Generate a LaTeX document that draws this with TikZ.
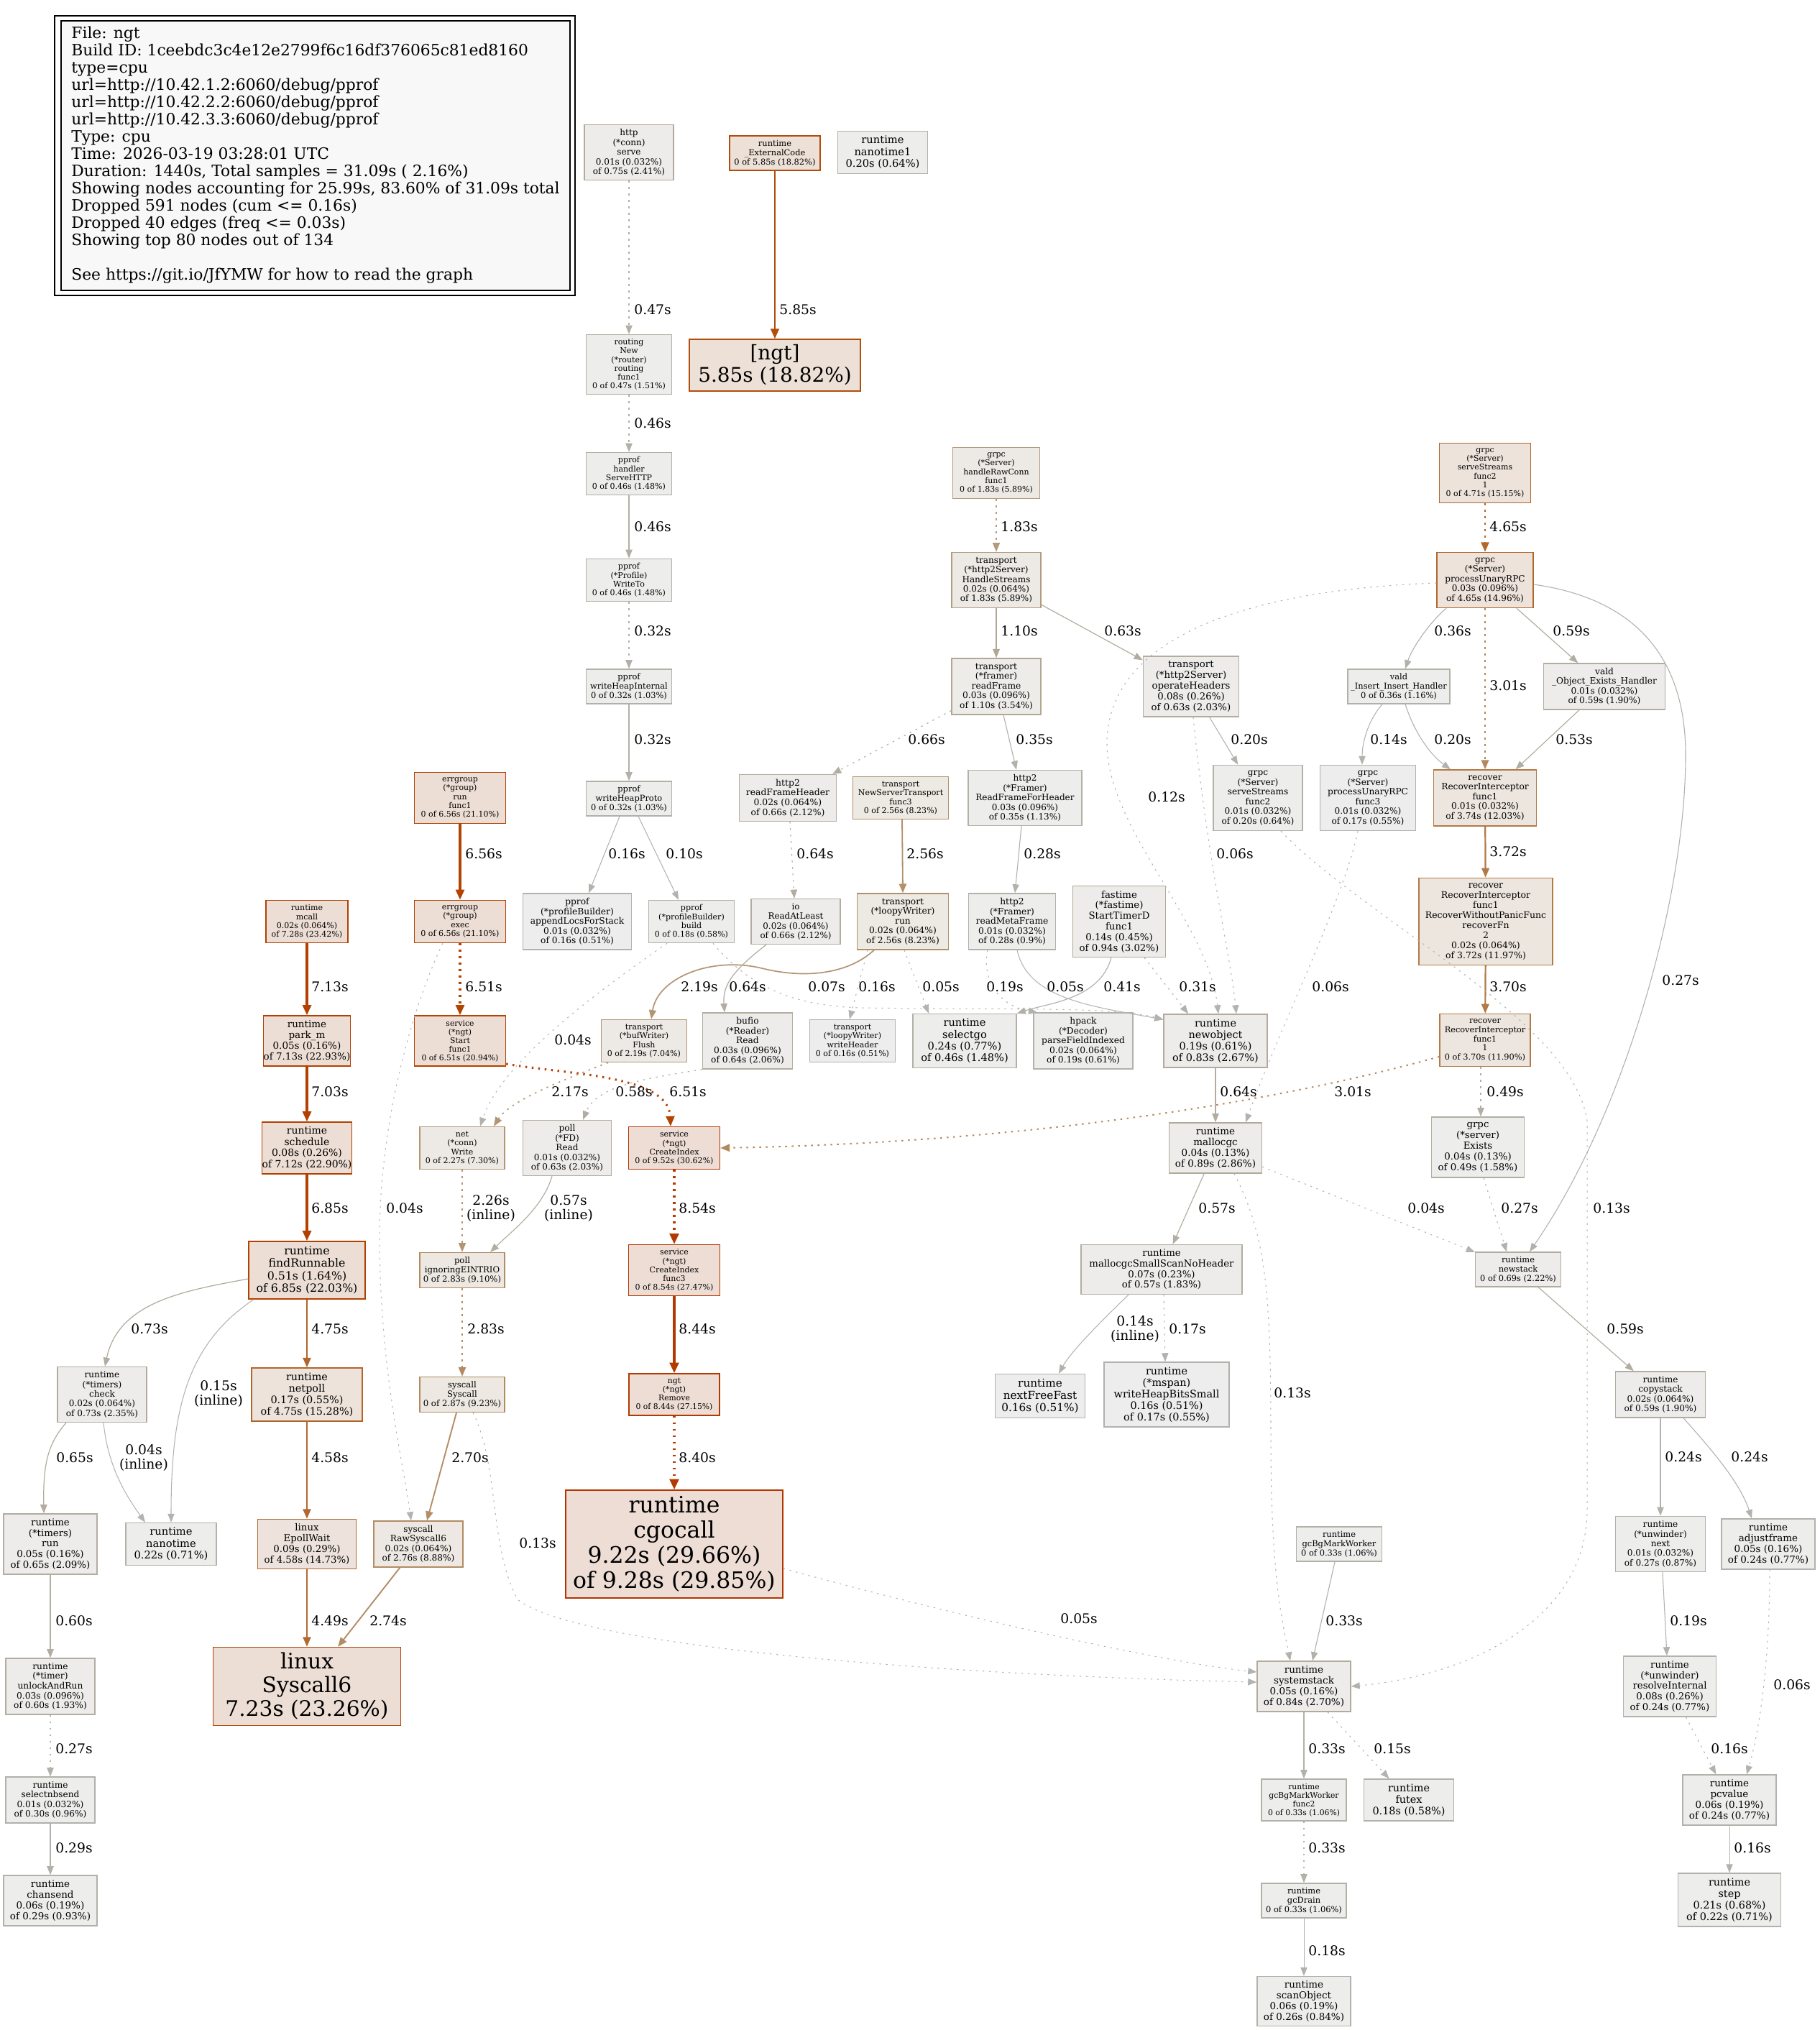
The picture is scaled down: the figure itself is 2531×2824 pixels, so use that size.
\documentclass[tikz,border=0pt]{standalone}
\usepackage{fontspec}
\setmainfont{DejaVu Serif}
\usetikzlibrary{arrows.meta}
\newcommand\pgcolor[3]{%
  \pgfmathsetmacro\pcS{min(1,#2/31.09)}%
  \ifnum#3=1 \def\pcSat{0.1}\def\pcVal{0.93}\else\def\pcSat{1.0}\def\pcVal{0.7}\fi
  \pgfmathsetmacro\pcSat{ifthenelse(\pcS<0.2,\pcSat*\pcS/0.2,\pcSat)}%
  \pgfmathsetmacro\pcSh{\pcS^0.3}%
  \pgfmathsetmacro\pcG{\pcVal*(1-\pcSat*\pcSh)}%
  \pgfmathsetmacro\pcB{\pcVal*(1-\pcSat)}%
  \definecolor{#1}{rgb}{\pcVal,\pcG,\pcB}%
}
\newcommand\fsz[1]{\pgfmathsetlengthmacro\fszA{0.45*#1}\pgfmathsetlengthmacro\fszB{0.5*#1}\fontsize{\fszA}{\fszB}\selectfont}
\newcommand\pgnode[8]{%
  \pgcolor{f-#1}{#7}{1}\pgcolor{d-#1}{#7}{0}%
  \node[pbox, fill=f-#1, draw=d-#1, minimum width=#4*0.5pt, minimum height=#5*0.5pt, font={\fsz{#6}}] (#1) at (#2,#3) {#8};%
}
\newcommand\pgedge[3][]{%
  \pgcolor{ecol}{#2}{0}%
  \pgfmathsetmacro\ewd{0.5+5*min(1,#2/31.09)}%
  \draw[pconn, line width=\ewd pt, draw=ecol, #1] #3;%
}
\definecolor{legfill}{HTML}{F8F8F8}
\tikzset{
 pbox/.style={rectangle, inner sep=0pt, line width=0.7pt, align=center, text=black},
 pconn/.style={-{Triangle[length=5.5pt 1, width=4pt 1.2]}},
 pdot/.style={dash pattern=on 1.2pt off 3.3pt},
 elab/.style={anchor=west, inner sep=0pt, font=\fontsize{9.35pt}{10.2pt}\selectfont},
 elabc/.style={anchor=center, align=center, inner sep=0pt, font=\fontsize{9.35pt}{10.2pt}\selectfont},
 legtext/.style={anchor=north west, align=left, inner sep=0pt, font=\fontsize{10.9pt}{12pt}\selectfont},
}
\begin{document}
\begin{tikzpicture}[x=0.5pt,y=-0.5pt]
\useasboundingbox (0,0) rectangle (2531,2824);
\fill[white] (0,0) rectangle (2531,2824);
% legend
\draw[black, line width=0.7pt] (76,22) rectangle (800,411);
\draw[black, fill=legfill, line width=0.7pt] (85,29) rectangle (793,404);
\node[legtext] (legend) at (99,37) {File: ngt\\
Build ID: 1ceebdc3c4e12e2799f6c16df376065c81ed8160\\
type=cpu\\
url=http://10.42.1.2:6060/debug/pprof\\
url=http://10.42.2.2:6060/debug/pprof\\
url=http://10.42.3.3:6060/debug/pprof\\
Type: cpu\\
Time: 2026-03-19 03:28:01 UTC\\
Duration: 1440s, Total samples = 31.09s ( 2.16\%)\\
Showing nodes accounting for 25.99s, 83.60\% of 31.09s total\\
Dropped 591 nodes (cum <= 0.16s)\\
Dropped 40 edges (freq <= 0.03s)\\
Showing top 80 nodes out of 134\\[12pt]
See https://git.io/JfYMW for how to read the graph};
% nodes
\pgnode{http}{875}{212}{124}{77}{13.4}{0.75}{http\\(*conn)\\serve\\0.01s (0.032\%)\\of 0.75s (2.41\%)}
\pgnode{extcode}{1078}{213}{126}{48}{12.7}{5.85}{runtime\\\_ExternalCode\\0 of 5.85s (18.82\%)}
\pgnode{nanotimeA}{1228}{212}{125}{59}{16.3}{0.20}{runtime\\nanotime1\\0.20s (0.64\%)}
\pgnode{ngt}{1078}{508}{238}{72}{31}{5.85}{[ngt]\\5.85s (18.82\%)}
\pgnode{routing}{875}{507}{119}{83}{12.2}{0.47}{routing\\New\\(*router)\\routing\\func1\\0 of 0.47s (1.51\%)}
\pgnode{handler}{875}{659}{119}{59}{12.25}{0.46}{pprof\\handler\\ServeHTTP\\0 of 0.46s (1.48\%)}
\pgnode{writeto}{875}{807}{119}{59}{12.25}{0.46}{pprof\\(*Profile)\\WriteTo\\0 of 0.46s (1.48\%)}
\pgnode{whi}{875}{955}{119}{48}{12.7}{0.32}{pprof\\writeHeapInternal\\0 of 0.32s (1.03\%)}
\pgnode{whp}{875}{1111}{119}{48}{12.7}{0.32}{pprof\\writeHeapProto\\0 of 0.32s (1.03\%)}
\pgnode{appendlocs}{803}{1282}{151}{78}{13.6}{0.16}{pprof\\(*profileBuilder)\\appendLocsForStack\\0.01s (0.032\%)\\of 0.16s (0.51\%)}
\pgnode{build}{962}{1282}{119}{59}{12.25}{0.18}{pprof\\(*profileBuilder)\\build\\0 of 0.18s (0.58\%)}
\pgnode{rawconn}{1386}{658}{121}{71}{12.2}{1.83}{grpc\\(*Server)\\handleRawConn\\func1\\0 of 1.83s (5.89\%)}
\pgnode{handlestreams}{1386}{807}{124}{77}{13.4}{1.83}{transport\\(*http2Server)\\HandleStreams\\0.02s (0.064\%)\\of 1.83s (5.89\%)}
\pgnode{readframe}{1386}{955}{124}{78}{13.6}{1.10}{transport\\(*framer)\\readFrame\\0.03s (0.096\%)\\of 1.10s (3.54\%)}
\pgnode{operate}{1657}{955}{133}{84}{14.8}{0.63}{transport\\(*http2Server)\\operateHeaders\\0.08s (0.26\%)\\of 0.63s (2.03\%)}
\pgnode{rfh}{1096}{1110}{135}{65}{13.75}{0.66}{http2\\readFrameHeader\\0.02s (0.064\%)\\of 0.66s (2.12\%)}
\pgnode{nst}{1253}{1110}{133}{59}{12.25}{2.56}{transport\\NewServerTransport\\func3\\0 of 2.56s (8.23\%)}
\pgnode{rffh}{1426}{1110}{158}{77}{13.4}{0.35}{http2\\(*Framer)\\ReadFrameForHeader\\0.03s (0.096\%)\\of 0.35s (1.13\%)}
\pgnode{ssf2}{1750}{1110}{124}{91}{13.5}{0.20}{grpc\\(*Server)\\serveStreams\\func2\\0.01s (0.032\%)\\of 0.20s (0.64\%)}
\pgnode{pur3}{1903}{1110}{133}{91}{13.5}{0.17}{grpc\\(*Server)\\processUnaryRPC\\func3\\0.01s (0.032\%)\\of 0.17s (0.55\%)}
\pgnode{ssf21}{2066}{658}{127}{83}{12.2}{4.71}{grpc\\(*Server)\\serveStreams\\func2\\1\\0 of 4.71s (15.15\%)}
\pgnode{pur}{2066}{807}{134}{77}{13.4}{4.65}{grpc\\(*Server)\\processUnaryRPC\\0.03s (0.096\%)\\of 4.65s (14.96\%)}
\pgnode{insert}{1946}{955}{142}{48}{12.7}{0.36}{vald\\\_Insert\_Insert\_Handler\\0 of 0.36s (1.16\%)}
\pgnode{existsh}{2232}{955}{169}{64}{13.5}{0.59}{vald\\\_Object\_Exists\_Handler\\0.01s (0.032\%)\\of 0.59s (1.90\%)}
\pgnode{ri}{2066}{1110}{143}{78}{13.6}{3.74}{recover\\RecoverInterceptor\\func1\\0.01s (0.032\%)\\of 3.74s (12.03\%)}
\pgnode{errrun}{640}{1110}{127}{71}{12.2}{6.56}{errgroup\\(*group)\\run\\func1\\0 of 6.56s (21.10\%)}
\pgnode{mcall}{427}{1282}{114}{59}{12.25}{7.28}{runtime\\mcall\\0.02s (0.064\%)\\of 7.28s (23.42\%)}
\pgnode{errexec}{640}{1282}{127}{59}{12.25}{6.56}{errgroup\\(*group)\\exec\\0 of 6.56s (21.10\%)}
\pgnode{readatleast}{1107}{1282}{124}{63}{13.25}{0.66}{io\\ReadAtLeast\\0.02s (0.064\%)\\of 0.66s (2.12\%)}
\pgnode{looprun}{1256}{1282}{127}{78}{13.6}{2.56}{transport\\(*loopyWriter)\\run\\0.02s (0.064\%)\\of 2.56s (8.23\%)}
\pgnode{readmeta}{1408}{1282}{121}{78}{13.6}{0.28}{http2\\(*Framer)\\readMetaFrame\\0.01s (0.032\%)\\of 0.28s (0.9\%)}
\pgnode{fastime}{1557}{1282}{129}{99}{14.8}{0.94}{fastime\\(*fastime)\\StartTimerD\\func1\\0.14s (0.45\%)\\of 0.94s (3.02\%)}
\pgnode{rwp}{2067}{1282}{186}{121}{13.9}{3.72}{recover\\RecoverInterceptor\\func1\\RecoverWithoutPanicFunc\\recoverFn\\2\\0.02s (0.064\%)\\of 3.72s (11.97\%)}
\pgnode{parkm}{427}{1448}{118}{70}{15}{7.13}{runtime\\park\_m\\0.05s (0.16\%)\\of 7.13s (22.93\%)}
\pgnode{start}{640}{1448}{127}{70}{12}{6.51}{service\\(*ngt)\\Start\\func1\\0 of 6.51s (20.94\%)}
\pgnode{flush}{896}{1448}{119}{59}{12.25}{2.19}{transport\\(*bufWriter)\\Flush\\0 of 2.19s (7.04\%)}
\pgnode{bufio}{1040}{1448}{125}{78}{13.6}{0.64}{bufio\\(*Reader)\\Read\\0.03s (0.096\%)\\of 0.64s (2.06\%)}
\pgnode{writeheader}{1186}{1448}{119}{59}{12.25}{0.16}{transport\\(*loopyWriter)\\writeHeader\\0 of 0.16s (0.51\%)}
\pgnode{selectgo}{1342}{1448}{144}{75}{16.25}{0.46}{runtime\\selectgo\\0.24s (0.77\%)\\of 0.46s (1.48\%)}
\pgnode{hpack}{1507}{1448}{138}{78}{13.6}{0.19}{hpack\\(*Decoder)\\parseFieldIndexed\\0.02s (0.064\%)\\of 0.19s (0.61\%)}
\pgnode{newobject}{1691}{1448}{144}{74}{16}{0.83}{runtime\\newobject\\0.19s (0.61\%)\\of 0.83s (2.67\%)}
\pgnode{rif1}{2066}{1447}{126}{73}{12.6}{3.70}{recover\\RecoverInterceptor\\func1\\1\\0 of 3.70s (11.90\%)}
\pgnode{schedule}{427}{1597}{120}{72}{15.5}{7.12}{runtime\\schedule\\0.08s (0.26\%)\\of 7.12s (22.90\%)}
\pgnode{connwrite}{643}{1597}{118}{59}{12.25}{2.27}{net\\(*conn)\\Write\\0 of 2.27s (7.30\%)}
\pgnode{fdread}{789}{1597}{123}{77}{13.4}{0.63}{poll\\(*FD)\\Read\\0.01s (0.032\%)\\of 0.63s (2.03\%)}
\pgnode{createindex}{938}{1597}{127}{59}{12.25}{9.52}{service\\(*ngt)\\CreateIndex\\0 of 9.52s (30.62\%)}
\pgnode{mallocgc}{1691}{1597}{129}{70}{15}{0.89}{runtime\\mallocgc\\0.04s (0.13\%)\\of 0.89s (2.86\%)}
\pgnode{exists}{2056}{1596}{129}{84}{14.8}{0.49}{grpc\\(*server)\\Exists\\0.04s (0.13\%)\\of 0.49s (1.58\%)}
\pgnode{findrun}{427}{1767}{162}{80}{17.5}{6.85}{runtime\\findRunnable\\0.51s (1.64\%)\\of 6.85s (22.03\%)}
\pgnode{eintr}{643}{1767}{118}{49}{13}{2.83}{poll\\ignoringEINTRIO\\0 of 2.83s (9.10\%)}
\pgnode{cif3}{938}{1767}{127}{71}{12.2}{8.54}{service\\(*ngt)\\CreateIndex\\func3\\0 of 8.54s (27.47\%)}
\pgnode{smallscan}{1616}{1766}{224}{69}{14.75}{0.57}{runtime\\mallocgcSmallScanNoHeader\\0.07s (0.23\%)\\of 0.57s (1.83\%)}
\pgnode{newstack}{2112}{1766}{119}{48}{12.7}{0.69}{runtime\\newstack\\0 of 0.69s (2.22\%)}
\pgnode{tcheck}{142}{1940}{124}{77}{13.4}{0.73}{runtime\\(*timers)\\check\\0.02s (0.064\%)\\of 0.73s (2.35\%)}
\pgnode{netpoll}{427}{1940}{154}{74}{16}{4.75}{runtime\\netpoll\\0.17s (0.55\%)\\of 4.75s (15.28\%)}
\pgnode{syscall}{643}{1940}{118}{49}{13}{2.87}{syscall\\Syscall\\0 of 2.87s (9.23\%)}
\pgnode{remove}{938}{1940}{126}{58}{12}{8.44}{ngt\\(*ngt)\\Remove\\0 of 8.44s (27.15\%)}
\pgnode{nextfree}{1447}{1942}{125}{61}{17}{0.16}{runtime\\nextFreeFast\\0.16s (0.51\%)}
\pgnode{whbs}{1623}{1940}{174}{90}{16}{0.17}{runtime\\(*mspan)\\writeHeapBitsSmall\\0.16s (0.51\%)\\of 0.17s (0.55\%)}
\pgnode{copystack}{2310}{1940}{125}{64}{13.5}{0.59}{runtime\\copystack\\0.02s (0.064\%)\\of 0.59s (1.90\%)}
\pgnode{trun}{70}{2148}{130}{84}{14.8}{0.65}{runtime\\(*timers)\\run\\0.05s (0.16\%)\\of 0.65s (2.09\%)}
\pgnode{nanotime}{238}{2148}{126}{59}{16.3}{0.22}{runtime\\nanotime\\0.22s (0.71\%)}
\pgnode{epoll}{427}{2148}{137}{69}{14.75}{4.58}{linux\\EpollWait\\0.09s (0.29\%)\\of 4.58s (14.73\%)}
\pgnode{rawsys}{582}{2148}{124}{64}{13.5}{2.76}{syscall\\RawSyscall6\\0.02s (0.064\%)\\of 2.76s (8.88\%)}
\pgnode{cgocall}{938}{2148}{302}{150}{35}{9.28}{runtime\\cgocall\\9.22s (29.66\%)\\of 9.28s (29.85\%)}
\pgnode{gcbg}{1863}{2148}{119}{48}{12.7}{0.33}{runtime\\gcBgMarkWorker\\0 of 0.33s (1.06\%)}
\pgnode{next}{2310}{2148}{125}{77}{13.4}{0.27}{runtime\\(*unwinder)\\next\\0.01s (0.032\%)\\of 0.27s (0.87\%)}
\pgnode{adjust}{2460}{2148}{130}{70}{15}{0.24}{runtime\\adjustframe\\0.05s (0.16\%)\\of 0.24s (0.77\%)}
\pgnode{unlock}{70}{2346}{124}{78}{13.6}{0.60}{runtime\\(*timer)\\unlockAndRun\\0.03s (0.096\%)\\of 0.60s (1.93\%)}
\pgnode{syscall6}{427}{2346}{261}{109}{33}{7.23}{linux\\Syscall6\\7.23s (23.26\%)}
\pgnode{systemstack}{1814}{2346}{130}{70}{15}{0.84}{runtime\\systemstack\\0.05s (0.16\%)\\of 0.84s (2.70\%)}
\pgnode{resolve}{2323}{2346}{129}{84}{14.8}{0.24}{runtime\\(*unwinder)\\resolveInternal\\0.08s (0.26\%)\\of 0.24s (0.77\%)}
\pgnode{selectnb}{70}{2504}{124}{64}{13.5}{0.30}{runtime\\selectnbsend\\0.01s (0.032\%)\\of 0.30s (0.96\%)}
\pgnode{gcf2}{1814}{2504}{118}{58}{12}{0.33}{runtime\\gcBgMarkWorker\\func2\\0 of 0.33s (1.06\%)}
\pgnode{futex}{1960}{2504}{125}{58}{16}{0.18}{runtime\\futex\\0.18s (0.58\%)}
\pgnode{pcvalue}{2406}{2504}{130}{70}{15}{0.24}{runtime\\pcvalue\\0.06s (0.19\%)\\of 0.24s (0.77\%)}
\pgnode{chansend}{70}{2644}{130}{70}{15}{0.29}{runtime\\chansend\\0.06s (0.19\%)\\of 0.29s (0.93\%)}
\pgnode{gcdrain}{1814}{2644}{118}{48}{12.7}{0.33}{runtime\\gcDrain\\0 of 0.33s (1.06\%)}
\pgnode{step}{2406}{2643}{143}{74}{16}{0.22}{runtime\\step\\0.21s (0.68\%)\\of 0.22s (0.71\%)}
\pgnode{scanobject}{1814}{2784}{130}{69}{15}{0.26}{runtime\\scanObject\\0.06s (0.19\%)\\of 0.26s (0.84\%)}
% edges
\pgedge[pdot]{0.47}{(http) -- (routing)}
\pgedge{5.85}{(extcode) -- (ngt)}
\pgedge[pdot]{0.46}{(routing) -- (handler)}
\pgedge{0.46}{(handler) -- (writeto)}
\pgedge[pdot]{0.32}{(writeto) -- (whi)}
\pgedge{0.32}{(whi) -- (whp)}
\pgedge{0.16}{([xshift=-6.5pt]whp.south) -- ([xshift=8pt]appendlocs.north)}
\pgedge{0.10}{([xshift=6.5pt]whp.south) -- ([xshift=-9pt]build.north)}
\pgedge[pdot]{0.04}{([xshift=-17pt]build.south) .. controls (860,1360) and (700,1470) .. ([xshift=12.5pt]connwrite.north)}
\pgedge[pdot]{0.07}{([xshift=15pt]build.south) .. controls (1040,1370) and (1100,1400) .. (1200,1402) .. controls (1400,1405) and (1550,1400) .. ([yshift=-4pt]newobject.north west)}
\pgedge[pdot]{0.64}{([xshift=1.5pt]rfh.south) -- ([xshift=-1pt]readatleast.north)}
\pgedge{2.56}{([xshift=1pt]nst.south) -- (looprun.north)}
\pgedge[pdot]{1.83}{(rawconn) -- (handlestreams)}
\pgedge{1.10}{(handlestreams) -- (readframe)}
\pgedge{0.63}{(handlestreams) -- (operate)}
\pgedge[pdot]{0.66}{(readframe) -- (rfh)}
\pgedge{0.35}{([xshift=5pt]readframe.south) -- ([xshift=-6pt]rffh.north)}
\pgedge{0.20}{(operate) -- (ssf2)}
\pgedge[pdot]{0.06}{([xshift=1.5pt]operate.south) .. controls (1680,1200) and (1712,1330) .. ([xshift=14.5pt]newobject.north)}
\pgedge[pdot]{0.12}{([yshift=-2pt]pur.west) .. controls (1750,820) and (1545,880) .. (1540,1030) .. controls (1537,1150) and (1680,1280) .. ([xshift=2pt]newobject.north)}
\pgedge{0.36}{([xshift=-27pt]pur.south) .. controls (1990,865) and (1965,900) .. ([xshift=4.5pt]insert.north)}
\pgedge[pdot]{3.01}{(pur) -- (ri)}
\pgedge{0.59}{(pur) -- (existsh)}
\pgedge{0.14}{([xshift=-11.5pt]insert.south) .. controls (1905,1000) and (1895,1030) .. ([xshift=-4pt]pur3.north)}
\pgedge{0.20}{([xshift=4.5pt]insert.south) .. controls (1968,1020) and (1990,1050) .. ([xshift=-24pt]ri.north)}
\pgedge{0.53}{(existsh) -- (ri)}
\pgedge[pdot]{4.65}{(ssf21) -- (pur)}
\pgedge{0.27}{([yshift=-3pt]pur.east) .. controls (2290,835) and (2345,930) .. (2345,1050) .. controls (2345,1250) and (2260,1550) .. ([xshift=8pt]newstack.north)}
\pgedge{3.72}{(ri) -- (rwp)}
\pgedge{3.70}{(rwp) -- (rif1)}
\pgedge[pdot]{3.01}{([yshift=-11.5pt]rif1.west) .. controls (1750,1540) and (1400,1590) .. (createindex.east)}
\pgedge[pdot]{0.49}{([xshift=-3pt]rif1.south) -- ([xshift=2pt]exists.north)}
\pgedge[pdot]{0.27}{([xshift=4pt]exists.south) -- ([xshift=-8pt]newstack.north)}
\pgedge{0.64}{(newobject) -- (mallocgc)}
\pgedge[pdot]{0.06}{([xshift=-7pt]pur3.south) .. controls (1870,1250) and (1780,1430) .. ([xshift=21pt]mallocgc.north)}
\pgedge{0.57}{(mallocgc) -- (smallscan)}
\pgedge[pdot]{0.04}{(mallocgc) -- (newstack)}
\pgedge[pdot]{0.13}{([xshift=13pt]mallocgc.south) .. controls (1762,1720) and (1768,1800) .. (1768,2000) .. controls (1768,2200) and (1785,2260) .. ([xshift=-9.5pt]systemstack.north)}
\pgedge{0.14}{([xshift=-23pt]smallscan.south) .. controls (1530,1840) and (1490,1880) .. ([xshift=13pt]nextfree.north)}
\pgedge[pdot]{0.17}{([xshift=1.5pt]smallscan.south) -- ([xshift=-1pt]whbs.north)}
\pgedge{0.59}{(newstack) -- (copystack)}
\pgedge{0.24}{(copystack) -- (next)}
\pgedge{0.24}{([xshift=16pt]copystack.south) .. controls (2375,2010) and (2420,2060) .. ([xshift=-11.5pt]adjust.north)}
\pgedge{0.19}{([xshift=1.5pt]next.south) -- ([xshift=-2pt]resolve.north)}
\pgedge[pdot]{0.16}{(resolve) -- (pcvalue)}
\pgedge[pdot]{0.06}{([xshift=1pt]adjust.south) .. controls (2462,2300) and (2450,2400) .. ([xshift=12pt]pcvalue.north)}
\pgedge{0.16}{(pcvalue) -- (step)}
\pgedge{0.33}{([xshift=-3pt]gcbg.south) -- ([xshift=6pt]systemstack.north)}
\pgedge{0.33}{(systemstack) -- (gcf2)}
\pgedge[pdot]{0.15}{(systemstack) -- (futex)}
\pgedge[pdot]{0.33}{(gcf2) -- (gcdrain)}
\pgedge{0.18}{(gcdrain) -- (scanobject)}
\pgedge[pdot]{0.05}{([yshift=-17pt]cgocall.east) .. controls (1300,2240) and (1600,2310) .. ([yshift=10pt]systemstack.west)}
\pgedge[pdot]{0.13}{([xshift=7.5pt]syscall.south) .. controls (695,2040) and (680,2150) .. (720,2225) .. controls (800,2290) and (1300,2330) .. ([yshift=3pt]systemstack.west)}
\pgedge{6.56}{(errrun) -- (errexec)}
\pgedge[pdot]{6.51}{(errexec) -- (start)}
\pgedge[pdot]{0.04}{([xshift=-12pt]errexec.south) .. controls (565,1420) and (528,1580) .. (528,1720) .. controls (528,1900) and (560,2030) .. ([xshift=-5pt]rawsys.north)}
\pgedge[pdot]{6.51}{([yshift=-16pt]start.east) .. controls (790,1495) and (930,1495) .. ([xshift=-2.5pt]createindex.north)}
\pgedge[pdot]{8.54}{(createindex) -- (cif3)}
\pgedge{8.44}{(cif3) -- (remove)}
\pgedge[pdot]{8.40}{(remove) -- (cgocall)}
\pgedge{2.19}{([xshift=-20pt]looprun.south) .. controls (1180,1355) and (1120,1362) .. (1060,1347) .. controls (990,1330) and (915,1360) .. ([xshift=5pt]flush.north)}
\pgedge{0.64}{([xshift=-20.5pt]readatleast.south) .. controls (1020,1350) and (1005,1370) .. ([xshift=-16pt]bufio.north)}
\pgedge[pdot]{0.16}{([xshift=-24.5pt]looprun.south) -- ([xshift=-2pt]writeheader.north)}
\pgedge[pdot]{0.05}{([xshift=1pt]looprun.south) -- ([xshift=-25pt]selectgo.north)}
\pgedge[pdot]{0.19}{([xshift=-17pt]readmeta.south) .. controls (1365,1370) and (1395,1400) .. ([xshift=-32pt]hpack.north)}
\pgedge{0.05}{([xshift=3.5pt]readmeta.south) .. controls (1430,1390) and (1520,1400) .. ([yshift=-4pt]newobject.north west)}
\pgedge{0.41}{([xshift=-5.5pt]fastime.south) .. controls (1530,1390) and (1460,1395) .. (selectgo.north east)}
\pgedge[pdot]{0.31}{([xshift=17.5pt]fastime.south) -- ([xshift=-19pt]newobject.north)}
\pgedge{0.28}{([xshift=-2.5pt]rffh.south) -- ([xshift=2pt]readmeta.north)}
\pgedge[pdot]{0.58}{(bufio.south west) .. controls (900,1500) and (830,1510) .. ([xshift=11pt]fdread.north)}
\pgedge[pdot]{2.17}{([xshift=-25pt]flush.south) .. controls (790,1500) and (710,1530) .. ([xshift=22pt]connwrite.north)}
\pgedge[pdot]{2.26}{(connwrite) -- (eintr)}
\pgedge{0.57}{([xshift=-10.5pt]fdread.south) .. controls (755,1680) and (715,1710) .. ([xshift=19.5pt]eintr.north)}
\pgedge[pdot]{2.83}{(eintr) -- (syscall)}
\pgedge{2.70}{([xshift=-4pt]syscall.south) -- ([xshift=6pt]rawsys.north)}
\pgedge{2.74}{(rawsys) -- (syscall6)}
\pgedge{7.13}{(mcall) -- (parkm)}
\pgedge{7.03}{(parkm) -- (schedule)}
\pgedge{6.85}{(schedule) -- (findrun)}
\pgedge{0.73}{([yshift=-6pt]findrun.west) .. controls (260,1795) and (165,1810) .. ([xshift=2pt]tcheck.north)}
\pgedge{0.15}{([xshift=-37pt]findrun.south) .. controls (260,1870) and (238,1960) .. (nanotime.north)}
\pgedge{4.75}{(findrun) -- (netpoll)}
\pgedge{4.58}{(netpoll) -- (epoll)}
\pgedge{4.49}{(epoll) -- (syscall6)}
\pgedge{0.65}{([xshift=-25pt]tcheck.south) .. controls (65,2010) and (60,2040) .. ([xshift=-4.5pt]trun.north)}
\pgedge{0.04}{([xshift=1pt]tcheck.south) .. controls (150,2040) and (175,2080) .. ([xshift=-18pt]nanotime.north)}
\pgedge{0.60}{(trun) -- (unlock)}
\pgedge[pdot]{0.27}{(unlock) -- (selectnb)}
\pgedge{0.29}{(selectnb) -- (chansend)}
\pgedge[pdot]{0.13}{([xshift=16pt]ssf2.south) .. controls (1900,1280) and (2190,1420) .. (2208,1560) -- (2208,2100) .. controls (2208,2250) and (2050,2330) .. (systemstack.east)}
% edge labels
\node[elab] (l01) at (882,431) {0.47s};
\node[elab] (l02) at (1084,431) {5.85s};
\node[elab] (l03) at (882,589) {0.46s};
\node[elab] (l04) at (882,733) {0.46s};
\node[elab] (l05) at (882,878) {0.32s};
\node[elab] (l06) at (882,1029) {0.32s};
\node[elab] (l07) at (846,1188) {0.16s};
\node[elab] (l08) at (926,1188) {0.10s};
\node[elab] (l09) at (1392,733) {1.83s};
\node[elab] (l10) at (1392,878) {1.10s};
\node[elab] (l11) at (1536,878) {0.63s};
\node[elab] (l12) at (1263,1029) {0.66s};
\node[elab] (l13) at (1413,1029) {0.35s};
\node[elab] (l14) at (1712,1029) {0.20s};
\node[elab] (l15) at (1597,1109) {0.12s};
\node[elab] (l16) at (1692,1188) {0.06s};
\node[elab] (l17) at (1825,1373) {0.06s};
\node[elab] (l18) at (2072,733) {4.65s};
\node[elab] (l19) at (1995,878) {0.36s};
\node[elab] (l20) at (2072,954) {3.01s};
\node[elab] (l21) at (2160,878) {0.59s};
\node[elab] (l22) at (1906,1029) {0.14s};
\node[elab] (l23) at (1995,1029) {0.20s};
\node[elab] (l24) at (2164,1029) {0.53s};
\node[elab] (l25) at (2312,1364) {0.27s};
\node[elab] (l26) at (2072,1185) {3.72s};
\node[elab] (l27) at (2072,1373) {3.70s};
\node[elab] (l28) at (647,1188) {6.56s};
\node[elab] (l29) at (647,1373) {6.51s};
\node[elab] (l30) at (433,1373) {7.13s};
\node[elab] (l31) at (433,1519) {7.03s};
\node[elab] (l32) at (433,1681) {6.85s};
\node[elab] (l33) at (1108,1188) {0.64s};
\node[elab] (l34) at (1261,1188) {2.56s};
\node[elab] (l35) at (1424,1188) {0.28s};
\node[elab] (l36) at (947,1373) {2.19s};
\node[elab] (l37) at (1014,1373) {0.64s};
\node[elab] (l38) at (1124,1373) {0.07s};
\node[elab] (l39) at (1194,1373) {0.16s};
\node[elab] (l40) at (1283,1373) {0.05s};
\node[elab] (l41) at (1372,1373) {0.19s};
\node[elab] (l42) at (1456,1373) {0.05s};
\node[elab] (l43) at (1535,1373) {0.41s};
\node[elab] (l44) at (1640,1373) {0.31s};
\node[elab] (l45) at (771,1447) {0.04s};
\node[elab] (l46) at (767,1519) {2.17s};
\node[elab] (l47) at (856,1519) {0.58s};
\node[elab] (l48) at (931,1519) {6.51s};
\node[elab] (l49) at (1697,1519) {0.64s};
\node[elab] (l50) at (1856,1519) {3.01s};
\node[elab] (l51) at (2068,1519) {0.49s};
\node[elab] (l52) at (537,1681) {0.04s};
\node[elabc] (l53) at (683,1681) {2.26s\\(inline)};
\node[elabc] (l54) at (791,1681) {0.57s\\(inline)};
\node[elab] (l55) at (944,1681) {8.54s};
\node[elab] (l56) at (1667,1681) {0.57s};
\node[elab] (l57) at (1958,1681) {0.04s};
\node[elab] (l58) at (2088,1681) {0.27s};
\node[elab] (l59) at (2216,1681) {0.13s};
\node[elab] (l60) at (182,1849) {0.73s};
\node[elabc] (l61) at (304,1939) {0.15s\\(inline)};
\node[elab] (l62) at (433,1849) {4.75s};
\node[elab] (l63) at (650,1849) {2.83s};
\node[elab] (l64) at (944,1849) {8.44s};
\node[elabc] (l65) at (1579,1849) {0.14s\\(inline)};
\node[elab] (l66) at (1626,1849) {0.17s};
\node[elab] (l67) at (2235,1849) {0.59s};
\node[elab] (l68) at (1772,1938) {0.13s};
\node[elab] (l69) at (78,2028) {0.65s};
\node[elabc] (l70) at (200,2028) {0.04s\\(inline)};
\node[elab] (l71) at (433,2028) {4.58s};
\node[elab] (l72) at (628,2028) {2.70s};
\node[elab] (l73) at (944,2028) {8.40s};
\node[elab] (l74) at (2316,2027) {0.24s};
\node[elab] (l75) at (2408,2027) {0.24s};
\node[elab] (l76) at (722,2147) {0.13s};
\node[elab] (l77) at (77,2255) {0.60s};
\node[elab] (l78) at (433,2255) {4.49s};
\node[elab] (l79) at (514,2255) {2.74s};
\node[elab] (l80) at (1475,2252) {0.05s};
\node[elab] (l81) at (1844,2255) {0.33s};
\node[elab] (l82) at (2323,2255) {0.19s};
\node[elab] (l83) at (2467,2344) {0.06s};
\node[elab] (l84) at (77,2433) {0.27s};
\node[elab] (l85) at (1820,2433) {0.33s};
\node[elab] (l86) at (1911,2433) {0.15s};
\node[elab] (l87) at (2380,2433) {0.16s};
\node[elab] (l88) at (77,2571) {0.29s};
\node[elab] (l89) at (1820,2571) {0.33s};
\node[elab] (l90) at (2412,2571) {0.16s};
\node[elab] (l91) at (1820,2714) {0.18s};
\end{tikzpicture}
\end{document}
